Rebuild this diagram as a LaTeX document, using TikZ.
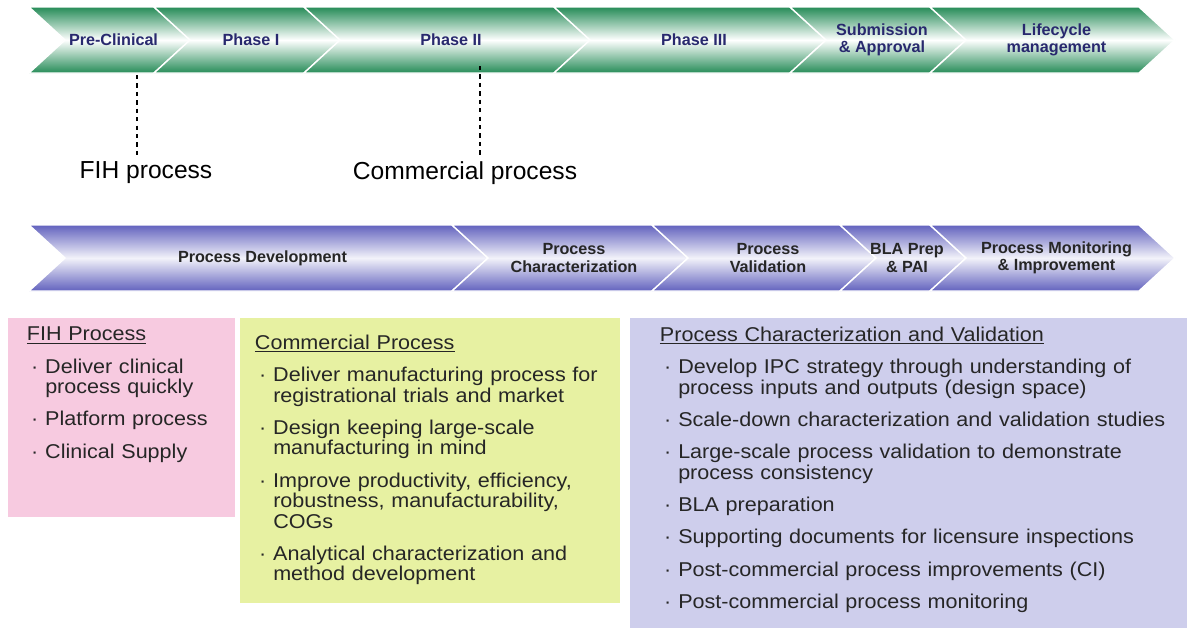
\documentclass[tikz,border=0pt]{standalone}
\usepackage{fontspec}
\setmainfont{Liberation Sans}
\newfontfamily\widefont[FakeStretch=1.08]{Liberation Sans}
\usetikzlibrary{calc}
\definecolor{grn}{RGB}{38,140,88}
\definecolor{prp}{RGB}{98,98,190}
\definecolor{navy}{RGB}{40,40,110}
\definecolor{pinkbox}{RGB}{247,202,224}
\definecolor{yelbox}{RGB}{231,241,162}
\definecolor{prpbox}{RGB}{206,206,236}
\newcommand{\bl}{\par\vspace{8.5pt}\hangindent=13pt\hangafter=1\noindent\makebox[13pt][l]{\hspace{3pt}\textperiodcentered}}
% chevron: x1, x2 (top right), y1, y2, name, shading style, label style, label
\newcommand{\chev}[8]{%
  \path[#6, draw=white, line width=1pt] (#1,#3) -- (#2,#3) -- ({#2+36},{(#3+#4)/2}) -- (#2,#4) -- (#1,#4) -- ({#1+36},{(#3+#4)/2}) -- cycle;
  \node[#7] (#5) at ({(#1+#2)/2+22},{(#3+#4)/2}) {#8};}
\begin{document}
\begin{tikzpicture}[x=0.025cm, y=-0.025cm,
  gchev/.style={top color=grn, bottom color=grn, middle color=white},
  pchev/.style={top color=prp, bottom color=prp, middle color=prp!8},
  glab/.style={font=\fontsize{11.5}{12.5}\selectfont\bfseries, text=navy, align=center},
  plab/.style={font=\fontsize{11.5}{12.5}\selectfont\bfseries, text=black!85, align=center},
  txt/.style={anchor=north west, align=left, font=\widefont\fontsize{14.2}{14.5}\selectfont, text=black!85},
  lbl/.style={font=\fontsize{17.5}{19}\selectfont}]
\useasboundingbox (0,0) rectangle (1193,638);
% green phase row
\chev{29}{154}{7}{73}{pc}{gchev}{glab}{Pre-Clinical}
\chev{154}{304}{7}{73}{p1}{gchev}{glab}{Phase I}
\chev{304}{554}{7}{73}{p2}{gchev}{glab}{Phase II}
\chev{554}{790}{7}{73}{p3}{gchev}{glab}{Phase III}
\chev{790}{930}{7}{73}{sub}{gchev}{glab}{Submission\\\& Approval}
\chev{930}{1139}{7}{73}{lc}{gchev}{glab}{Lifecycle\\management}
% purple process row
\chev{29}{452}{225}{291}{pd}{pchev}{plab}{Process Development}
\chev{452}{652}{225}{291}{pch}{pchev}{plab}{Process\\Characterization}
\chev{652}{840}{225}{291}{pv}{pchev}{plab}{Process\\Validation}
\chev{840}{930}{225}{291}{bla}{pchev}{plab}{BLA Prep\\\& PAI}
\chev{930}{1139}{225}{291}{pm}{pchev}{plab}{Process Monitoring\\\& Improvement}
% markers
\coordinate (d1a) at (137,75); \coordinate (d2a) at (480,66);
\node[lbl] (fih) at (146,173) {FIH process};
\node[lbl] (com) at (465,173) {Commercial process};
\draw[dashed, thick] (d1a) -- (d1a |- 0,155);
\draw[dashed, thick] (d2a) -- (d2a |- 0,155);
% boxes
\fill[pinkbox] (8,318) rectangle (235,517);
\fill[yelbox] (240,318) rectangle (620,603);
\fill[prpbox] (630,318) rectangle (1187,628);
\node[txt, text width=215] (t1) at (22,322) {\underline{FIH Process}%
\bl Deliver clinical\newline process quickly
\bl Platform process
\bl Clinical Supply\par};
\node[txt, text width=370] (t2) at (250,330) {\underline{Commercial Process}%
\bl Deliver manufacturing process for\newline registrational trials and market
\bl Design keeping large-scale\newline manufacturing in mind
\bl Improve productivity, efficiency,\newline robustness, manufacturability,\newline COGs
\bl Analytical characterization and\newline method development\par};
\node[txt, text width=540] (t3) at (655,322) {\underline{Process Characterization and Validation}%
\bl Develop IPC strategy through understanding of\newline process inputs and outputs (design space)
\bl Scale-down characterization and validation studies
\bl Large-scale process validation to demonstrate\newline process consistency
\bl BLA preparation
\bl Supporting documents for licensure inspections
\bl Post-commercial process improvements (CI)
\bl Post-commercial process monitoring\par};
\end{tikzpicture}
\end{document}
